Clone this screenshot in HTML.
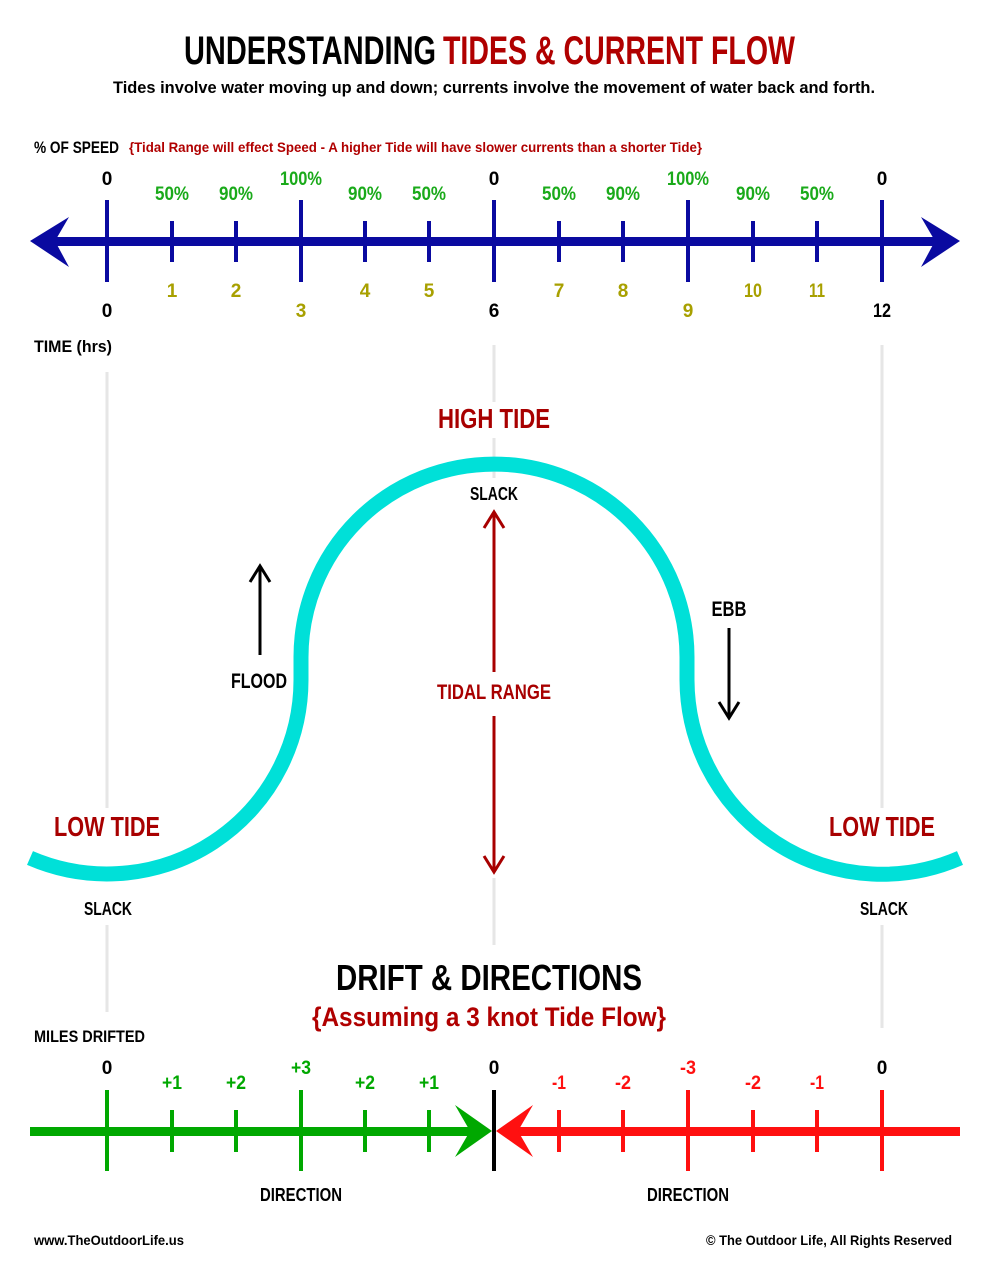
<!DOCTYPE html>
<html><head><meta charset="utf-8"><style>
html,body{margin:0;padding:0;background:#fff;}
svg{display:block;}
text{font-family:"Liberation Sans Narrow","Liberation Sans",sans-serif;font-weight:bold;}
</style></head><body>
<svg width="989" height="1280" viewBox="0 0 989 1280" xmlns="http://www.w3.org/2000/svg">
<rect width="989" height="1280" fill="#fff"/>
<!-- Title -->
<text x="184" y="64" font-size="40" fill="#000" textLength="252" lengthAdjust="spacingAndGlyphs">UNDERSTANDING</text>
<text x="443" y="64" font-size="40" fill="#b00000" textLength="352" lengthAdjust="spacingAndGlyphs">TIDES &amp; CURRENT FLOW</text>
<text x="494" y="93" font-size="17" fill="#000" text-anchor="middle" textLength="762" lengthAdjust="spacingAndGlyphs">Tides involve water moving up and down; currents involve the movement of water back and forth.</text>

<text x="34" y="153" font-size="17" fill="#000" textLength="85" lengthAdjust="spacingAndGlyphs">% OF SPEED</text>
<text x="129" y="152" font-size="14" fill="#b00000" textLength="573" lengthAdjust="spacingAndGlyphs">{Tidal Range will effect Speed - A higher Tide will have slower currents than a shorter Tide}</text>

<!-- gray guides -->
<g stroke="#e6e6e6" stroke-width="3">
<line x1="107" y1="372" x2="107" y2="808"/><line x1="107" y1="925" x2="107" y2="1012"/>
<line x1="494" y1="345" x2="494" y2="402"/><line x1="494" y1="438" x2="494" y2="478"/><line x1="494" y1="878" x2="494" y2="945"/>
<line x1="882" y1="345" x2="882" y2="808"/><line x1="882" y1="925" x2="882" y2="1028"/>
</g>

<!-- top axis -->
<g fill="#0a0aa0" stroke="none">
<rect x="50" y="237" width="890" height="9"/>
<polygon points="30,241 69,217 55,241 69,267"/>
<polygon points="960,241 921,217 935,241 921,267"/>
</g>
<g stroke="#0a0aa0" stroke-width="4">
<line x1="107" y1="200" x2="107" y2="282"/><line x1="301" y1="200" x2="301" y2="282"/><line x1="494" y1="200" x2="494" y2="282"/><line x1="688" y1="200" x2="688" y2="282"/><line x1="882" y1="200" x2="882" y2="282"/>
<line x1="172" y1="221" x2="172" y2="262"/><line x1="236" y1="221" x2="236" y2="262"/><line x1="365" y1="221" x2="365" y2="262"/><line x1="429" y1="221" x2="429" y2="262"/>
<line x1="559" y1="221" x2="559" y2="262"/><line x1="623" y1="221" x2="623" y2="262"/><line x1="753" y1="221" x2="753" y2="262"/><line x1="817" y1="221" x2="817" y2="262"/>
</g>
<g font-size="19" text-anchor="middle" lengthAdjust="spacingAndGlyphs">
<text x="107" y="185" fill="#000">0</text><text x="494" y="185" fill="#000">0</text><text x="882" y="185" fill="#000">0</text>
<text x="301" y="185" fill="#1aaa1a" textLength="42" lengthAdjust="spacingAndGlyphs">100%</text><text x="688" y="185" fill="#1aaa1a" textLength="42" lengthAdjust="spacingAndGlyphs">100%</text>
<text x="172" y="200" fill="#1aaa1a" textLength="34" lengthAdjust="spacingAndGlyphs">50%</text><text x="236" y="200" fill="#1aaa1a" textLength="34" lengthAdjust="spacingAndGlyphs">90%</text><text x="365" y="200" fill="#1aaa1a" textLength="34" lengthAdjust="spacingAndGlyphs">90%</text><text x="429" y="200" fill="#1aaa1a" textLength="34" lengthAdjust="spacingAndGlyphs">50%</text>
<text x="559" y="200" fill="#1aaa1a" textLength="34" lengthAdjust="spacingAndGlyphs">50%</text><text x="623" y="200" fill="#1aaa1a" textLength="34" lengthAdjust="spacingAndGlyphs">90%</text><text x="753" y="200" fill="#1aaa1a" textLength="34" lengthAdjust="spacingAndGlyphs">90%</text><text x="817" y="200" fill="#1aaa1a" textLength="34" lengthAdjust="spacingAndGlyphs">50%</text>
<text x="107" y="317" fill="#000">0</text><text x="494" y="317" fill="#000">6</text><text x="882" y="317" fill="#000" textLength="18" lengthAdjust="spacingAndGlyphs">12</text>
<text x="301" y="317" fill="#a8a000">3</text><text x="688" y="317" fill="#a8a000">9</text>
<text x="172" y="297" fill="#a8a000">1</text><text x="236" y="297" fill="#a8a000">2</text><text x="365" y="297" fill="#a8a000">4</text><text x="429" y="297" fill="#a8a000">5</text>
<text x="559" y="297" fill="#a8a000">7</text><text x="623" y="297" fill="#a8a000">8</text><text x="753" y="297" fill="#a8a000" textLength="18" lengthAdjust="spacingAndGlyphs">10</text><text x="817" y="297" fill="#a8a000" textLength="16" lengthAdjust="spacingAndGlyphs">11</text>
</g>
<text x="34" y="352" font-size="17" fill="#000" textLength="78" lengthAdjust="spacingAndGlyphs">TIME (hrs)</text>

<!-- tide curve -->
<path d="M30,858 A194,194 0 0 0 301,680 L301,657 A193,193 0 0 1 687,657 L687,680 A195,195 0 0 0 960,858" fill="none" stroke="#00e0d8" stroke-width="15"/>

<text x="494" y="428" font-size="28" fill="#a80000" text-anchor="middle" textLength="112" lengthAdjust="spacingAndGlyphs">HIGH TIDE</text>
<text x="494" y="500" font-size="18" fill="#000" text-anchor="middle" textLength="48" lengthAdjust="spacingAndGlyphs">SLACK</text>
<text x="494" y="699" font-size="21" fill="#a80000" text-anchor="middle" textLength="114" lengthAdjust="spacingAndGlyphs">TIDAL RANGE</text>
<g stroke="#a80000" stroke-width="3" fill="none">
<line x1="494" y1="514" x2="494" y2="672"/><line x1="494" y1="716" x2="494" y2="870"/>
<polyline points="484,528 494,512 504,528"/><polyline points="484,856 494,872 504,856"/>
</g>
<text x="259" y="688" font-size="21" fill="#000" text-anchor="middle" textLength="56" lengthAdjust="spacingAndGlyphs">FLOOD</text>
<g stroke="#000" stroke-width="3" fill="none">
<line x1="260" y1="568" x2="260" y2="655"/><polyline points="250,582 260,566 270,582"/>
<line x1="729" y1="628" x2="729" y2="716"/><polyline points="719,702 729,718 739,702"/>
</g>
<text x="729" y="616" font-size="21" fill="#000" text-anchor="middle" textLength="35" lengthAdjust="spacingAndGlyphs">EBB</text>

<text x="107" y="836" font-size="28" fill="#a80000" text-anchor="middle" textLength="106" lengthAdjust="spacingAndGlyphs">LOW TIDE</text>
<text x="882" y="836" font-size="28" fill="#a80000" text-anchor="middle" textLength="106" lengthAdjust="spacingAndGlyphs">LOW TIDE</text>
<text x="108" y="915" font-size="18" fill="#000" text-anchor="middle" textLength="48" lengthAdjust="spacingAndGlyphs">SLACK</text>
<text x="884" y="915" font-size="18" fill="#000" text-anchor="middle" textLength="48" lengthAdjust="spacingAndGlyphs">SLACK</text>

<text x="489" y="990" font-size="36" fill="#000" text-anchor="middle" textLength="306" lengthAdjust="spacingAndGlyphs">DRIFT &amp; DIRECTIONS</text>
<text x="489" y="1026" font-size="27" fill="#b00000" text-anchor="middle" textLength="354" lengthAdjust="spacingAndGlyphs">{Assuming a 3 knot Tide Flow}</text>
<text x="34" y="1042" font-size="17" fill="#000" textLength="111" lengthAdjust="spacingAndGlyphs">MILES DRIFTED</text>

<!-- bottom axis -->
<rect x="30" y="1127" width="440" height="9" fill="#00a800"/>
<polygon points="492,1131 455,1105 470,1131 455,1157" fill="#00a800"/>
<rect x="518" y="1127" width="442" height="9" fill="#ff1010"/>
<polygon points="496,1131 533,1105 518,1131 533,1157" fill="#ff1010"/>
<line x1="494" y1="1090" x2="494" y2="1171" stroke="#000" stroke-width="4"/>
<g stroke="#00a800" stroke-width="4">
<line x1="107" y1="1090" x2="107" y2="1171"/><line x1="301" y1="1090" x2="301" y2="1171"/>
<line x1="172" y1="1110" x2="172" y2="1152"/><line x1="236" y1="1110" x2="236" y2="1152"/><line x1="365" y1="1110" x2="365" y2="1152"/><line x1="429" y1="1110" x2="429" y2="1152"/>
</g>
<g stroke="#ff1010" stroke-width="4">
<line x1="688" y1="1090" x2="688" y2="1171"/><line x1="882" y1="1090" x2="882" y2="1171"/>
<line x1="559" y1="1110" x2="559" y2="1152"/><line x1="623" y1="1110" x2="623" y2="1152"/><line x1="753" y1="1110" x2="753" y2="1152"/><line x1="817" y1="1110" x2="817" y2="1152"/>
</g>
<g font-size="19" text-anchor="middle">
<text x="107" y="1074" fill="#000">0</text><text x="494" y="1074" fill="#000">0</text><text x="882" y="1074" fill="#000">0</text>
<text x="301" y="1074" fill="#00a800" textLength="20" lengthAdjust="spacingAndGlyphs">+3</text><text x="688" y="1074" fill="#ff1010" textLength="16" lengthAdjust="spacingAndGlyphs">-3</text>
<text x="172" y="1089" fill="#00a800" textLength="20" lengthAdjust="spacingAndGlyphs">+1</text><text x="236" y="1089" fill="#00a800" textLength="20" lengthAdjust="spacingAndGlyphs">+2</text><text x="365" y="1089" fill="#00a800" textLength="20" lengthAdjust="spacingAndGlyphs">+2</text><text x="429" y="1089" fill="#00a800" textLength="20" lengthAdjust="spacingAndGlyphs">+1</text>
<text x="559" y="1089" fill="#ff1010" textLength="14" lengthAdjust="spacingAndGlyphs">-1</text><text x="623" y="1089" fill="#ff1010" textLength="16" lengthAdjust="spacingAndGlyphs">-2</text><text x="753" y="1089" fill="#ff1010" textLength="16" lengthAdjust="spacingAndGlyphs">-2</text><text x="817" y="1089" fill="#ff1010" textLength="14" lengthAdjust="spacingAndGlyphs">-1</text>
</g>
<text x="301" y="1201" font-size="18" fill="#000" text-anchor="middle" textLength="82" lengthAdjust="spacingAndGlyphs">DIRECTION</text>
<text x="688" y="1201" font-size="18" fill="#000" text-anchor="middle" textLength="82" lengthAdjust="spacingAndGlyphs">DIRECTION</text>
<text x="34" y="1245" font-size="14" fill="#000" textLength="150" lengthAdjust="spacingAndGlyphs">www.TheOutdoorLife.us</text>
<text x="952" y="1245" font-size="14" fill="#000" text-anchor="end" textLength="246" lengthAdjust="spacingAndGlyphs">© The Outdoor Life, All Rights Reserved</text>
</svg>
</body></html>
